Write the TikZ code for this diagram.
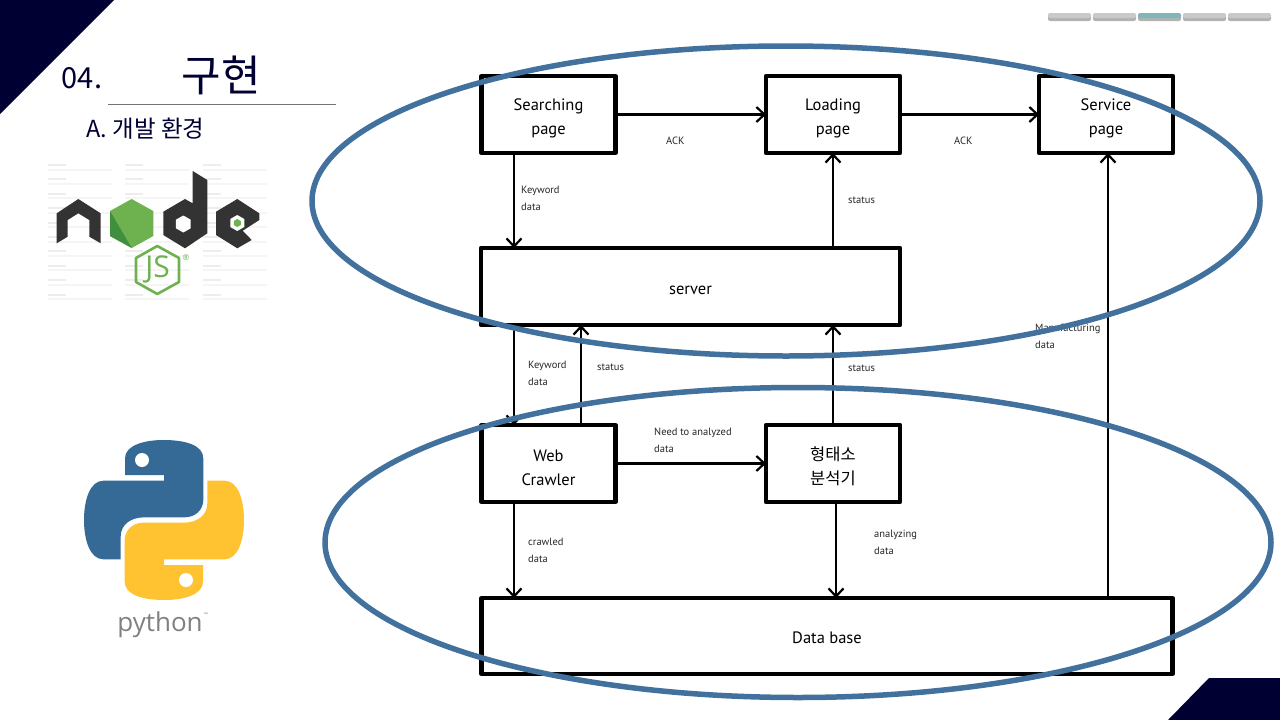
\documentclass[tikz,border=0pt]{standalone}
\usepackage{fontspec}
\setmainfont{PT Sans}
\newfontfamily\krfont{Noto Sans CJK KR}
\newfontfamily\logofont{Open Sans}
\usetikzlibrary{arrows.meta}
\newcommand{\lift}{\rule{0pt}{19.5pt}}
\definecolor{navy}{HTML}{000033}
\definecolor{ringblue}{HTML}{41719C}
\definecolor{pyblue}{HTML}{366A96}
\definecolor{pyyellow}{HTML}{FFC331}
\definecolor{nodedark}{HTML}{333333}
\definecolor{nodegreen}{HTML}{6DB24E}
\definecolor{nodedeep}{HTML}{3F8F3F}
\definecolor{tabgrey}{HTML}{C9C9C9}
\definecolor{tabteal}{HTML}{7FB6B9}
\tikzset{
	block/.style = {draw, line width = 4.2pt, line join = round, fill = white, align = center, inner sep = 0, outer sep = 0, font = \fontsize{16.5}{24}\selectfont, execute at begin node = {\rule{0pt}{16pt}}},
	flow/.style = {line width = 2.2pt, -{Straight Barb[length = 8pt, width = 15pt, line width = 2.2pt]}},
	note/.style = {anchor = west, align = left, inner sep = 0, text = black!85, font = \fontsize{10.5}{17}\selectfont},
	ring/.style = {draw = ringblue, line width = 5.5pt},
	heading/.style = {inner sep = 0, text = navy}
}
\begin{document}
\begin{tikzpicture}[x = 1pt, y = -1pt]
	\useasboundingbox (0, 0) rectangle (1280, 720);
	\fill [navy] (0, 0) -- (114, 0) -- (0, 114) -- cycle;
	\fill [navy] (1168, 720) -- (1209, 678) -- (1280, 678) -- (1280, 720) -- cycle;
	\foreach \x/\col in {1048/tabgrey, 1093/tabgrey, 1138/tabteal, 1183/tabgrey, 1228/tabgrey}{
		\fill [black!30, rounded corners = 2pt] (\x, 15) rectangle +(43, 6);
		\fill [\col, rounded corners = 2pt] (\x, 13) rectangle +(43, 5);
	};
	\node [heading, font = \krfont\fontsize{29}{29}\selectfont] (num) at (82, 78) {04.};
	\node [heading, font = \krfont\fontsize{43}{43}\selectfont] (title) at (221, 75) {구현};
	\node [heading, font = \krfont\fontsize{23.5}{23.5}\selectfont] (sub) at (145.5, 129) {A. 개발 환경};
	\draw [black!55, line width = 1pt] (108, 104) -- (336, 104);
	\foreach \x in {48, 125, 203}{
		\foreach \r in {0, ..., 9}{
			\fill [black!7] (\x, 164 + 14.4*\r) rectangle +(18, 2);
			\fill [black!4] (\x, 168.5 + 14.4*\r) rectangle +(64, 2);
		};
	};
	\fill [nodedark] (56.7, 213.3) -- (78.3, 199) -- (100.7, 213.3) -- (100.7, 243.3) -- (89.3, 236.7) -- (89.3, 220) -- (78.3, 213.3) -- (67.7, 220) -- (67.7, 236.7) -- (56.7, 243.3) -- cycle;
	\fill [nodegreen] (131.7, 199) -- (153.3, 211) -- (153.3, 236) -- (131.7, 248) -- (110, 236) -- (110, 211) -- cycle;
	\fill [nodedeep] (110, 211) -- (131.7, 248) -- (110, 236) -- cycle;
	\fill [nodedark] (192.7, 171) -- (207.3, 180) -- (207.3, 233.3) -- (185, 248.3) -- (163.3, 235) -- (163.3, 211.7) -- (185, 199) -- (192.7, 203.3) -- cycle;
	\fill [white] (183.3, 215.5) -- (190.7, 219.7) -- (190.7, 228.3) -- (183.3, 232.5) -- (175.9, 228.3) -- (175.9, 219.7) -- cycle;
	\fill [nodedark] (237.3, 199) -- (259.3, 213.3) -- (259.3, 220) -- (242.7, 230.7) -- (251.7, 240) -- (237.3, 248.3) -- (216, 235) -- (216, 211.7) -- cycle;
	\fill [white] (237.3, 215) -- (244.3, 219) -- (244.3, 227) -- (237.3, 231) -- (230.3, 227) -- (230.3, 219) -- cycle;
	\fill [nodegreen] (237.3, 219) -- (240.8, 221) -- (240.8, 225) -- (237.3, 227) -- (233.8, 225) -- (233.8, 221) -- cycle;
	\draw [nodegreen, line width = 2.6pt, line join = round] (157.3, 246) -- (179, 258) -- (179, 282) -- (157.3, 294) -- (136, 282) -- (136, 258) -- cycle;
	\node [inner sep = 0, text = nodegreen, font = \logofont\fontsize{30}{30}\selectfont] (js) at (157.5, 269) {JS};
	\node [inner sep = 0, text = nodegreen, font = \logofont\fontsize{8}{8}\selectfont] (reg) at (186, 258) {®};
	\foreach \col/\ang/\ex/\ey in {pyblue/0/142/460, pyyellow/180/186/580}{
		\fill [\col, rotate around = {\ang:(164, 520)}] (125, 475) -- (125, 458.3) .. controls (125, 445) and (145, 440) .. (163.3, 440) .. controls (185, 440) and (203.3, 445) .. (203.3, 458.3) -- (203.3, 500) .. controls (203.3, 510) and (195, 517.3) .. (185, 517.3) -- (145, 517.3) .. controls (130, 517.3) and (120.7, 525) .. (120.7, 536.7) -- (120.7, 559.3) -- (103.3, 559.3) .. controls (90, 559.3) and (84, 540) .. (84, 520) .. controls (84, 500) and (90, 480.7) .. (103.3, 480.7) -- (164, 480.7) -- (164, 475) -- cycle;
		\fill [white] (\ex, \ey) circle (7pt);
	};
	\node [inner sep = 0, text = black!50, font = \logofont\fontsize{26}{26}\selectfont] (python) at (160, 625) {python};
	\node [inner sep = 0, text = black!50, font = \logofont\fontsize{5}{5}\selectfont] (tm) at (206, 615) {™};

	\foreach \name/\x/\y/\w/\h/\txt in {
		searching/548.5/114.5/134/77/{\lift Searching\\page},
		loading/833/114.5/134/77/{\lift Loading\\page},
		service/1106/114.5/134/77/{\lift Service\\page},
		server/690.5/286.5/419/77/{server},
		crawler/548.5/463.5/134/77/{\lift Web\\Crawler},
		morph/833/463.5/134/77/{\lift{\krfont 형태소}\\{\krfont 분석기}},
		database/827/636/691/76/{Data base}}{
		\node [block, minimum width = \w pt, minimum height = \h pt] (\name) at (\x, \y) {\txt};
	};
	\coordinate (lane) at (514, 0);
	\coordinate (back) at (581, 0);
	\coordinate (mid) at (836, 0);
	\coordinate (up) at (1108, 0);
	\draw [flow] (searching.east) -- (loading.west);
	\draw [flow] (loading.east) -- (service.west);
	\draw [flow] (crawler.east) -- (morph.west);
	\draw [flow] (searching.south -| lane) -- (server.north -| lane);
	\draw [flow] (server.north -| loading) -- (loading.south);
	\draw [flow] (server.south -| lane) -- (crawler.north -| lane);
	\draw [flow] (crawler.north -| back) -- (server.south -| back);
	\draw [flow] (morph.north) -- (server.south -| morph);
	\draw [flow] (crawler.south -| lane) -- (database.north -| lane);
	\draw [flow] (morph.south -| mid) -- (database.north -| mid);
	\draw [flow] (database.north -| up) -- (service.south -| up);
	\foreach \name/\x/\y/\txt in {
		ackone/666/141/ACK,
		acktwo/954/141/ACK,
		keyone/521/198.5/{Keyword\\data},
		statone/848/200/status,
		keytwo/528/373/{Keyword\\data},
		stattwo/597/367/status,
		statthree/848/368/status,
		need/654/440.5/{Need to analyzed\\data},
		crawled/528/550/{crawled\\data},
		analyzing/874/542.5/{analyzing\\data},
		manufacturing/1035/336.5/{Manufacturing\\data}}{
		\node [note] (\name) at (\x, \y) {\txt};
	};
	\draw [ring] (786, 201) ellipse [x radius = 474pt, y radius = 155pt];
	\draw [ring] (798, 542.5) ellipse [x radius = 473pt, y radius = 155pt];
\end{tikzpicture}
\end{document}
